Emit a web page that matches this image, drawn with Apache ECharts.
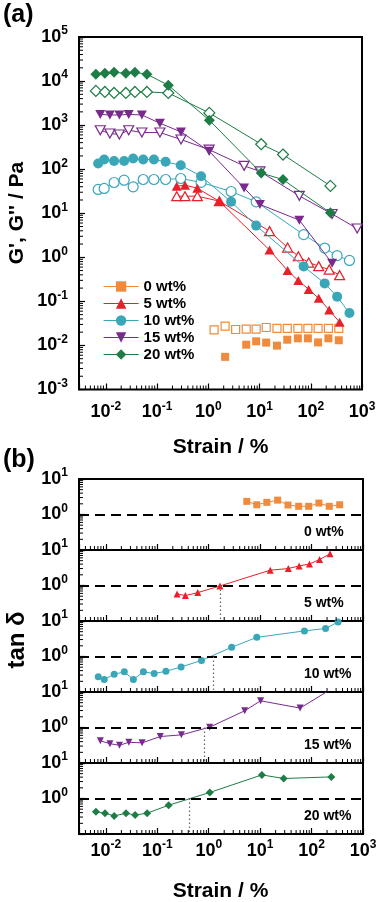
<!DOCTYPE html>
<html><head><meta charset="utf-8">
<script src="https://cdn.jsdelivr.net/npm/echarts@6/dist/echarts.min.js"></script>
<style>html,body{margin:0;padding:0;background:#fff}#c{width:380px;height:902px}</style>
</head><body><div id="c"></div>
<script>
// ---------------- DATA ----------------
const concLabels = ['0 wt%', '5 wt%', '10 wt%', '15 wt%', '20 wt%'];

// Panel (a): G' (filled) and G'' (open) vs strain (%)
const strain0Gp  = [2.13, 5.5, 8.6, 13.5, 21.9, 34.8, 56, 87.8, 139, 221, 352];
const gp0        = [0.0055, 0.0104, 0.0124, 0.0116, 0.0099, 0.0135, 0.0145, 0.0145, 0.0117, 0.0145, 0.0131];
const strain0Gpp = [1.30, 2.13, 3.42, 5.5, 8.6, 13.5, 21.9, 34.8, 56, 87.8, 139, 221, 352];
const gpp0       = [0.0225, 0.0275, 0.023, 0.0235, 0.0235, 0.0255, 0.0245, 0.0245, 0.0245, 0.0245, 0.0245, 0.0245, 0.0245];

const strain5 = [0.242, 0.351, 0.612, 1.65, 15.7, 35.3, 57.2, 91, 143, 229, 366];
const gp5     = [41.1, 43.4, 37, 18.6, 1.46, 0.499, 0.296, 0.187, 0.117, 0.0635, 0.0336];
const gpp5    = [24.4, 24.4, 24.4, 18.8, 3.93, 1.66, 1.06, 0.758, 0.631, 0.526, 0.394];

const strain10 = [0.0071, 0.0093, 0.0145, 0.0228, 0.0342, 0.0537, 0.0869, 0.147, 0.29, 0.723, 2.79, 8.6, 72.6, 187, 327, 569];
const gp10     = [135, 166, 154, 154, 175, 166, 166, 147, 123, 69.4, 18.2, 5.24, 0.622, 0.256, 0.128, 0.0543];
const gpp10    = [34.7, 36.5, 49.9, 56.3, 39.7, 58.3, 58.3, 58.3, 61.5, 50.2, 31.2, 18.2, 3.27, 1.62, 1.09, 0.85];

const strain15Gp  = [0.0078, 0.012, 0.0184, 0.028, 0.0506, 0.114, 0.294, 1.04, 5.0, 10.2, 59.8, 261];
const gp15        = [1750, 1700, 1700, 1750, 1700, 1104, 702, 256, 37.5, 15.8, 6.98, 0.73];
const strain15Gpp = [0.0078, 0.012, 0.0184, 0.028, 0.0506, 0.114, 0.294, 1.04, 5.0, 10.2, 59.8, 261, 805];
const gpp15       = [766, 645, 613, 766, 679, 679, 471, 277, 119, 89, 24.8, 9.6, 4.5];

const strain20 = [0.0064, 0.0096, 0.0145, 0.0246, 0.037, 0.0634, 0.166, 1.05, 10.8, 28.7, 242];
const gp20     = [14300, 15000, 15800, 15000, 15800, 14300, 8040, 1290, 82, 58, 10.2];
const gpp20    = [5970, 5660, 5370, 5370, 5660, 5660, 5370, 1890, 369, 215, 41.8];

// Panel (b): tan delta vs strain (%)
const strainTan0  = [5.5, 8.6, 13.5, 21.9, 34.8, 56, 87.8, 139, 221, 352];
const tan0        = [2.34, 1.88, 2.2, 2.54, 1.85, 1.7, 1.7, 2.1, 1.7, 1.88];
const strainTan5  = [0.242, 0.351, 0.612, 1.65, 15.7, 35.3, 57.2, 91, 143, 229];
const tan5        = [0.58, 0.52, 0.63, 0.97, 2.7, 3.0, 3.55, 4.03, 5.4, 7.8];
const strainTan10 = [0.0071, 0.0093, 0.0145, 0.0228, 0.0342, 0.0537, 0.0869, 0.147, 0.29, 0.723, 2.79, 8.6, 72.6, 187, 327];
const tan10       = [0.268, 0.225, 0.316, 0.369, 0.225, 0.369, 0.331, 0.383, 0.508, 0.774, 1.82, 3.46, 5.27, 6.15, 9.4];
const strainTan15 = [0.0078, 0.012, 0.0184, 0.028, 0.0506, 0.114, 0.294, 1.04, 5.0, 10.2, 59.8, 261];
const tan15       = [0.42, 0.35, 0.315, 0.383, 0.37, 0.557, 0.62, 1.02, 2.95, 5.65, 3.52, 13];
const strainTan20 = [0.0064, 0.0096, 0.0145, 0.0246, 0.037, 0.0634, 0.166, 1.05, 10.8, 28.7, 242];
const tan20       = [0.42, 0.385, 0.323, 0.385, 0.343, 0.385, 0.647, 1.48, 4.62, 3.66, 4.06];

// crossover strain (tan delta = 1), dotted guide lines
const crossStrain = [null, 1.7, 1.2, 0.83, 0.42];

// ---------------- STYLE ----------------
const FONT = '"Liberation Sans", Arial, Helvetica, sans-serif';
const colors = ['#F08B3D', '#E8202A', '#3AA7B9', '#782B8D', '#1E7D46'];
const symbols = ['rect', 'triangle', 'circle', 'triangle', 'diamond'];
const rotates = [0, 0, 0, 180, 0];
const sizeA = [8, [10, 9], 10, [10, 9], 11];
const sizeB = [7, 7, 7, 7, 8];
const X_MIN = 0.003, X_MAX = 1000;
const Y_RANGE = [[0.001, 100000], [0.1, 10], [0.1, 10], [0.1, 10], [0.1, 10], [0.1, 10]];

const gpSets = [[strain0Gp, gp0], [strain5, gp5], [strain10, gp10], [strain15Gp, gp15], [strain20, gp20]];
const gppSets = [[strain0Gpp, gpp0], [strain5, gpp5], [strain10, gpp10], [strain15Gpp, gpp15], [strain20, gpp20]];
const tanSets = [[strainTan0, tan0], [strainTan5, tan5], [strainTan10, tan10], [strainTan15, tan15], [strainTan20, tan20]];

function pairs(xs, ys) { return xs.map((x, i) => [x, ys[i]]); }

const rich = {
  b: { fontFamily: FONT, fontSize: 18, fontWeight: 'bold', color: '#000', lineHeight: 24 },
  s: { fontFamily: FONT, fontSize: 12, fontWeight: 'bold', color: '#000', lineHeight: 13, verticalAlign: 'top' }
};
function powLabel(v, minExp) {
  const l = Math.log10(v), e = Math.round(l);
  if (Math.abs(l - e) > 1e-6) return '';
  if (minExp !== undefined && e < minExp) return '';
  return '{b|10}{s|' + e + '}';
}
// minor (2..9 x 10^k) tick values inside [lo, hi]
function minorVals(lo, hi) {
  const out = [];
  for (let k = Math.floor(Math.log10(lo)); k < Math.ceil(Math.log10(hi)); k++)
    for (let m = 2; m <= 9; m++) { const v = m * Math.pow(10, k); if (v > lo && v < hi) out.push(v); }
  return out;
}

// grids
const grids = [{ left: 79, top: 37, width: 283, height: 352.5 }];
const bTops = [479, 550, 621, 692, 763];
bTops.forEach(t => grids.push({ left: 79, top: t, width: 284, height: 71 }));
grids.forEach(g => { g.show = true; g.borderColor = '#000'; g.borderWidth = 2; g.backgroundColor = 'transparent'; });

const lblBase = { fontFamily: FONT, fontSize: 18, fontWeight: 'bold', color: '#000' };
const xAxes = [], yAxes = [];
for (let i = 0; i < 6; i++) {
  const showLbl = (i === 0 || i === 5);
  xAxes.push({
    type: 'log', gridIndex: i, min: X_MIN, max: X_MAX, position: 'bottom',
    axisLine: { show: false }, splitLine: { show: false },
    axisTick: { show: true, inside: true, length: 6, lineStyle: { color: '#000', width: 1.2 } },
    axisLabel: Object.assign({ show: showLbl, margin: i === 0 ? 11 : 5, formatter: v => powLabel(v), rich: rich }, lblBase)
  });
  yAxes.push({
    type: 'log', gridIndex: i, min: Y_RANGE[i][0], max: Y_RANGE[i][1], position: 'left',
    axisLine: { show: false }, splitLine: { show: false },
    axisTick: { show: true, inside: true, length: 6, lineStyle: { color: '#000', width: 1.2 } },
    axisLabel: Object.assign({ show: true, margin: 11, formatter: v => powLabel(v, i === 0 ? undefined : 0), rich: rich }, lblBase)
  });
}

const series = [];
// minor ticks drawn through the axes' own scales
for (let i = 0; i < 6; i++) {
  const yLo = Y_RANGE[i][0];
  series.push({
    type: 'custom', name: 'minorX' + i, xAxisIndex: i, yAxisIndex: i, silent: true, clip: false, z: 10,
    data: minorVals(X_MIN, X_MAX).map(v => [v, yLo]),
    renderItem: (params, api) => {
      const p = api.coord([api.value(0), api.value(1)]);
      return { type: 'line', shape: { x1: p[0], y1: p[1], x2: p[0], y2: p[1] - 4 }, style: { stroke: '#000', lineWidth: 1 } };
    }
  });
  series.push({
    type: 'custom', name: 'minorY' + i, xAxisIndex: i, yAxisIndex: i, silent: true, clip: false, z: 10,
    data: minorVals(Y_RANGE[i][0], Y_RANGE[i][1]).map(v => [X_MIN, v]),
    renderItem: (params, api) => {
      const p = api.coord([api.value(0), api.value(1)]);
      return { type: 'line', shape: { x1: p[0], y1: p[1], x2: p[0] + 4, y2: p[1] }, style: { stroke: '#000', lineWidth: 1 } };
    }
  });
}
// panel (a)
for (let i = 0; i < 5; i++) {
  const c = colors[i];
  const lineOp = i === 0 ? 0 : 1;
  series.push({
    name: concLabels[i] + " G''", type: 'line', xAxisIndex: 0, yAxisIndex: 0,
    data: pairs(gppSets[i][0], gppSets[i][1]),
    symbol: symbols[i], symbolRotate: rotates[i], symbolSize: sizeA[i],
    itemStyle: { color: '#fff', borderColor: c, borderWidth: 1.2 },
    lineStyle: { color: c, width: 1, opacity: lineOp }, z: 3
  });
  series.push({
    name: concLabels[i], type: 'line', xAxisIndex: 0, yAxisIndex: 0,
    data: pairs(gpSets[i][0], gpSets[i][1]),
    symbol: symbols[i], symbolRotate: rotates[i], symbolSize: sizeA[i],
    itemStyle: { color: c },
    lineStyle: { color: c, width: 1, opacity: lineOp }, z: 4
  });
}
// panel (b)
for (let i = 0; i < 5; i++) {
  const c = colors[i];
  const mlData = [{ yAxis: 1, lineStyle: { type: [10, 6], color: '#000', width: 1.8 } }];
  if (crossStrain[i] !== null) {
    mlData.push([{ coord: [crossStrain[i], 1], lineStyle: { type: [1.5, 2.5], color: '#666', width: 1.2 } }, { coord: [crossStrain[i], 0.1] }]);
  }
  series.push({
    name: 'tan δ ' + concLabels[i], type: 'line', xAxisIndex: i + 1, yAxisIndex: i + 1,
    data: pairs(tanSets[i][0], tanSets[i][1]),
    symbol: symbols[i], symbolRotate: rotates[i], symbolSize: sizeB[i],
    itemStyle: { color: c }, lineStyle: { color: c, width: 1 }, clip: true, z: 4,
    markLine: { silent: true, symbol: ['none', 'none'], label: { show: false }, animation: false, data: mlData }
  });
}

const titleStyle = { fontFamily: FONT, fontWeight: 'bold', fill: '#000' };
const graphic = [
  { type: 'text', left: 3, top: 3, style: Object.assign({ text: '(a)', fontSize: 25 }, titleStyle) },
  { type: 'text', left: 3, top: 448, style: Object.assign({ text: '(b)', fontSize: 25 }, titleStyle) },
  { type: 'text', x: 17, y: 213, rotation: Math.PI / 2, style: Object.assign({ text: "G', G'' / Pa", fontSize: 21, align: 'center', verticalAlign: 'middle' }, titleStyle) },
  { type: 'text', x: 17, y: 640, rotation: Math.PI / 2, style: Object.assign({ text: 'tan δ', fontSize: 24, align: 'center', verticalAlign: 'middle' }, titleStyle) },
  { type: 'text', x: 220.5, y: 447, style: Object.assign({ text: 'Strain / %', fontSize: 21, align: 'center', verticalAlign: 'middle' }, titleStyle) },
  { type: 'text', x: 220.5, y: 891, style: Object.assign({ text: 'Strain / %', fontSize: 21, align: 'center', verticalAlign: 'middle' }, titleStyle) }
];
bTops.forEach((t, i) => {
  graphic.push({ type: 'text', x: 304, y: t + 53, style: Object.assign({ text: concLabels[i], fontSize: 14, align: 'left', verticalAlign: 'middle' }, titleStyle) });
});

const option = {
  animation: false,
  backgroundColor: '#fff',
  grid: grids,
  xAxis: xAxes,
  yAxis: yAxes,
  legend: {
    orient: 'vertical', left: 98, top: 274, itemWidth: 35, itemHeight: 13, itemGap: 2,
    data: concLabels.map(n => ({ name: n })),
    lineStyle: { width: 1.2, opacity: 1 },
    textStyle: { fontFamily: FONT, fontSize: 15, fontWeight: 'bold', color: '#000' },
    selectedMode: false
  },
  series: series,
  graphic: graphic
};

const chart = echarts.init(document.getElementById('c'), null, { renderer: 'canvas' });
chart.setOption(option);
</script>
</body></html>
